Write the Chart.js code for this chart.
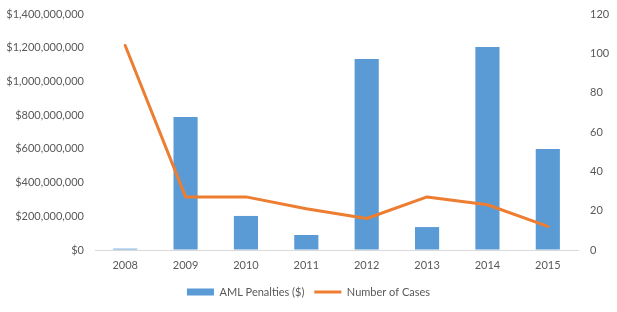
<!DOCTYPE html>
<html>
<head>
<meta charset="utf-8">
<script src="https://cdn.jsdelivr.net/npm/chart.js@4/dist/chart.umd.min.js"></script>
<style>
html,body{margin:0;padding:0;background:#fff;}
#wrap{width:617px;height:312px;}
</style>
</head>
<body>
<div id="wrap"><canvas id="c" width="617" height="312"></canvas></div>
<script>
const years = ['2008','2009','2010','2011','2012','2013','2014','2015'];
const penalties = [8000000, 789000000, 202000000, 89000000, 1133000000, 136000000, 1204000000, 599000000];
const cases = [104, 27, 27, 21, 16, 27, 23, 12];
const leftTicks = [0, 200000000, 400000000, 600000000, 800000000, 1000000000, 1200000000, 1400000000];
const rightTicks = [0, 20, 40, 60, 80, 100, 120];

const FONT = {family: 'Lato, "Open Sans", sans-serif', size: 11};
const TXT = '#595959';
const BLUE = '#5B9BD5';
const ORANGE = '#ED7D31';

function money(v){ return '$' + Math.round(v).toLocaleString('en-US'); }

new Chart(document.getElementById('c'), {
  data: {
    labels: years,
    datasets: [
      {type:'line', label:'Number of Cases', data: cases, yAxisID:'y1', borderColor: ORANGE, backgroundColor: ORANGE,
       borderWidth: 3, pointRadius: 0, pointHoverRadius: 0, pointHitRadius: 0, tension: 0, order: 0,
       borderCapStyle:'round', borderJoinStyle:'round'},
      {type:'bar', label:'AML Penalties ($)', data: penalties, yAxisID:'y', backgroundColor: BLUE,
       categoryPercentage: 1.0, barPercentage: 0.4, order: 1}
    ]
  },
  options: {
    responsive: false,
    animation: false,
    events: [],
    layout: {autoPadding: false, padding: {top: 14, bottom: 4.5, left: 0, right: 0}},
    plugins: {
      tooltip: {enabled:false},
      legend: {
        position: 'bottom',
        labels: {
          color: TXT, font: FONT, usePointStyle: true, pointStyleWidth: 27, boxHeight: 7, padding: 10,
          generateLabels: (chart) => [
            {text:'AML Penalties ($)', fillStyle: BLUE, strokeStyle: BLUE, lineWidth: 0, pointStyle:'rect', datasetIndex:1, fontColor: TXT},
            {text:'Number of Cases', fillStyle: ORANGE, strokeStyle: ORANGE, lineWidth: 3, pointStyle:'line', datasetIndex:0, fontColor: TXT}
          ]
        }
      }
    },
    scales: {
      x: {
        grid: {display:false, drawTicks:false},
        border: {display:true, color:'#d9d9d9', width:1},
        ticks: {color: TXT, font: FONT, padding: 9},
        afterFit: (s) => { s.height = 26.5; }
      },
      y: {
        position:'left', min:0, max:1400000000,
        afterBuildTicks: (s) => { s.ticks = leftTicks.map(v => ({value:v})); },
        afterFit: (s) => { s.width = 95; },
        grid: {display:true, color:'rgba(0,0,0,0)', drawOnChartArea:false, drawTicks:true, tickLength:11},
        border: {display:false},
        ticks: {color: TXT, font: FONT, padding: 0, callback: (v) => money(v)}
      },
      y1: {
        position:'right', min:0, max:120,
        afterBuildTicks: (s) => { s.ticks = rightTicks.map(v => ({value:v})); },
        afterFit: (s) => { s.width = 39; },
        grid: {display:true, color:'rgba(0,0,0,0)', drawOnChartArea:false, drawTicks:true, tickLength:12},
        border: {display:false},
        ticks: {color: TXT, font: FONT, padding: 0}
      }
    }
  }
});
</script>
</body>
</html>
